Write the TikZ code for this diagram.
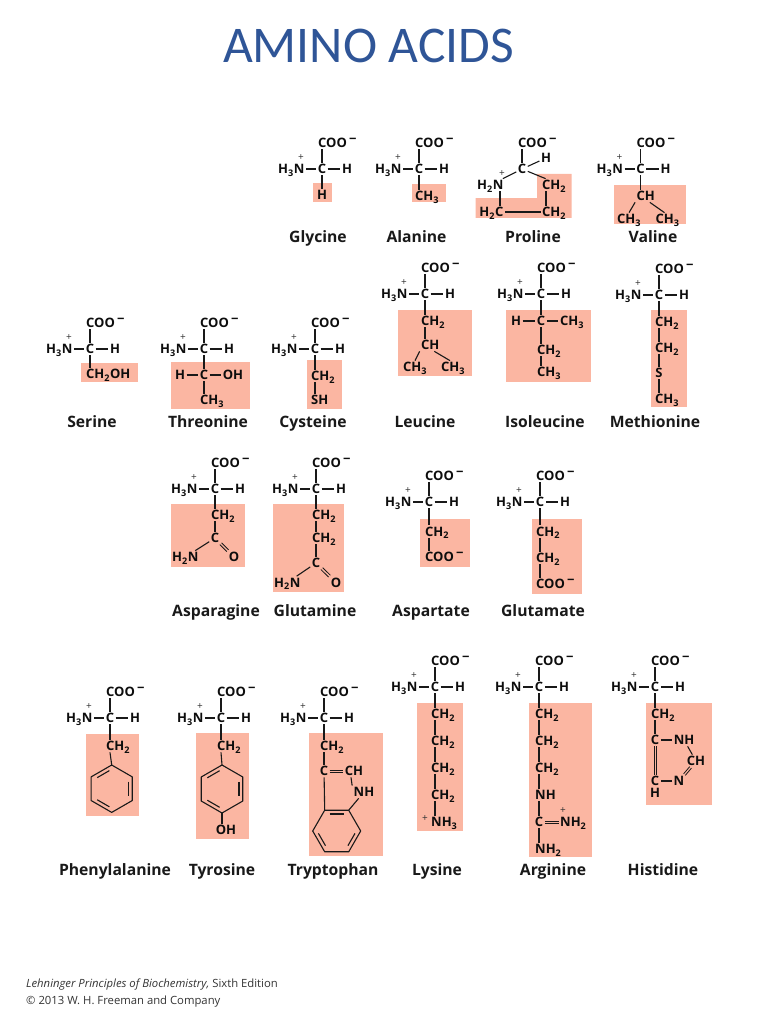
\documentclass[tikz,border=0pt]{standalone}
\usepackage{fontspec}
\setmainfont{Open Sans}
\newfontfamily\titlefont{Carlito}
\usetikzlibrary{calc}
\definecolor{sidefill}{HTML}{FBB6A2}
\definecolor{titleblue}{HTML}{2F5597}
\tikzset{
	atom/.style={font=\bfseries\fontsize{13}{13}\selectfont,inner sep=1.4pt,text height=9.5pt,text depth=0pt,text=black!95},
	group/.style={atom,anchor=west,xshift=-5.4pt},
	plus/.style={font=\fontsize{10}{10}\selectfont,inner sep=0pt,text=black!80},
	bond/.style={line width=1.1pt,black!90},
	side/.style={fill=sidefill,draw=none},
	acid/.style={font=\bfseries\fontsize{15.7}{15.7}\selectfont,inner sep=0pt,anchor=base,text=black!90}
}
\newcommand{\coo}{COO\,\raisebox{.3em}{−}}
% the part that all but proline share
\newcommand{\backbone}{
	\node[atom] (c) at (0,0) {C};
	\node[group] (coo) at (0,-26) {\coo};
	\node[atom,anchor=east] (n) at (-16,0) {H\textsubscript{3}N};
	\node[plus] (p) at (-21,-11) {+};
	\node[atom] (h) at (25,0) {H};
	\draw[bond] (c) -- (c |- coo.south);
	\draw[bond] (n) -- (c);
	\draw[bond] (c) -- (h);
}
% two strokes side by side: from, to, half gap in x, half gap in y
\newcommand{\dblbond}[4]{
	\draw[bond,line width=.8pt,transform canvas={xshift={(#3)*1pt},yshift={(#4)*1pt}}] (#1) -- (#2);
	\draw[bond,line width=.8pt,transform canvas={xshift={-(#3)*1pt},yshift={-(#4)*1pt}}] (#1) -- (#2);
}
% ring: centre, radius, first angle
\newcommand{\hexring}[3]{
	\coordinate (o) at (#1);
	\foreach \k in {1,...,6}
		\coordinate (r\k) at ($(o)+(#3+60*\k-60:#2)$);
	\draw[bond,line join=round] (r1) -- (r2) -- (r3) -- (r4) -- (r5) -- (r6) -- cycle;
}
\newcommand{\innerbond}[2]{
	\draw[bond] ($(o)!.82!($(#1)!.14!(#2)$)$) -- ($(o)!.82!($(#2)!.14!(#1)$)$);
}
\begin{document}
\begin{tikzpicture}[x=1pt,y=-1pt]
	\useasboundingbox (0,0) rectangle (768,1024);
	\node[font=\titlefont\fontsize{51.5}{51.5}\selectfont,text=titleblue,inner sep=0pt] (title) at (368.5,46) {AMINO ACIDS};

	% side chain boxes
	\fill[side] (312.6,183.4) rectangle (332.3,202);
	\fill[side] (411.6,183.7) rectangle (446.4,202.4);
	\fill[side] (475.6,198.1) -- (537.2,198.1) -- (537.2,173.9) -- (571.6,173.9) -- (571.6,217.8) -- (475.6,217.8) -- cycle;
	\fill[side] (614,184.7) rectangle (686.4,224.3);
	\fill[side] (81.3,363.3) rectangle (138,382.3);
	\fill[side] (170.7,362) rectangle (250,408.7);
	\fill[side] (306.7,360) rectangle (341.7,408.7);
	\fill[side] (397.7,309.7) rectangle (472,376.3);
	\fill[side] (506,310) rectangle (591.3,381.7);
	\fill[side] (651,310.3) rectangle (687,407.3);
	\fill[side] (170.8,504.4) rectangle (244.6,566.7);
	\fill[side] (272.5,504.4) rectangle (344.3,592);
	\fill[side] (419.7,519.2) rectangle (469.8,567.4);
	\fill[side] (531.8,519.2) rectangle (582,593.6);
	\fill[side] (86,734) rectangle (138.7,816);
	\fill[side] (196,733) rectangle (249,839);
	\fill[side] (309,733) rectangle (383,856);
	\fill[side] (417.3,702.7) rectangle (463,831);
	\fill[side] (529.3,703.3) rectangle (592,857);
	\fill[side] (645.7,702.7) rectangle (712.3,804.7);

	% glycine
	\begin{scope}[shift={(322,169)},name prefix=gly-]
		\backbone
		\node[atom] (r) at (0,26) {H};
		\draw[bond] (c) -- (r);
	\end{scope}
	% alanine
	\begin{scope}[shift={(419,169)},name prefix=ala-]
		\backbone
		\node[group] (r) at (0,27) {CH\textsubscript{3}};
		\draw[bond] (c) -- (c |- r.north);
	\end{scope}
	% proline
	\begin{scope}[shift={(522,169)},name prefix=pro-]
		\node[atom] (c) at (0,0) {C};
		\node[group] (coo) at (0,-26) {\coo};
		\node[atom] (h) at (24,-11) {H};
		\node[atom,anchor=east] (n) at (-17,16) {H\textsubscript{2}N};
		\node[plus] (p) at (-20,5) {+};
		\node[group] (ca) at (24,16) {CH\textsubscript{2}};
		\node[group] (cb) at (24,43) {CH\textsubscript{2}};
		\node[atom,anchor=east] (cc) at (-17,43) {H\textsubscript{2}C};
		\coordinate (ce) at (-22,43);
		\coordinate (cf) at (24,43);
		\draw[bond] (c) -- (c |- coo.south);
		\draw[bond] (c) -- (h);
		\draw[bond] (c) -- (n);
		\draw[bond] (c) -- ([xshift=5pt]ca.north west);
		\draw[bond] (cf |- ca.south) -- (cf |- cb.north);
		\draw[bond] (ce |- n.south) -- (ce |- cc.north);
		\draw[bond] (cc) -- (cb);
	\end{scope}
	% valine
	\begin{scope}[shift={(640.5,169)},name prefix=val-]
		\backbone
		\node[group] (r) at (0,27) {CH};
		\node[atom] (ma) at (-11.5,50) {CH\textsubscript{3}};
		\node[atom] (mb) at (27,50) {CH\textsubscript{3}};
		\draw[bond] (c) -- (c |- r.north);
		\draw[bond] (r.south west) -- (ma.north);
		\draw[bond] ([xshift=4pt]r.south) -- ([xshift=-3pt]mb.north);
	\end{scope}
	% serine
	\begin{scope}[shift={(90,349)},name prefix=ser-]
		\backbone
		\node[group] (r) at (0,25) {CH\textsubscript{2}OH};
		\draw[bond] (c) -- (c |- r.north);
	\end{scope}
	% threonine
	\begin{scope}[shift={(204,349)},name prefix=thr-]
		\backbone
		\node[atom] (r) at (0,26) {C};
		\node[atom] (ra) at (-24,26) {H};
		\node[atom] (rb) at (29,26) {OH};
		\node[group] (rc) at (0,51) {CH\textsubscript{3}};
		\draw[bond] (c) -- (r);
		\draw[bond] (ra) -- (r);
		\draw[bond] (r) -- (rb);
		\draw[bond] (r) -- (r |- rc.north);
	\end{scope}
	% cysteine
	\begin{scope}[shift={(315,349)},name prefix=cys-]
		\backbone
		\node[group] (r) at (0,27) {CH\textsubscript{2}};
		\node[group] (ra) at (0,51) {SH};
		\draw[bond] (c) -- (c |- r.north);
		\draw[bond] (c |- r.south) -- (c |- ra.north);
	\end{scope}
	% leucine
	\begin{scope}[shift={(425,294)},name prefix=leu-]
		\backbone
		\node[group] (r) at (0,27) {CH\textsubscript{2}};
		\node[group] (ra) at (0,51) {CH};
		\node[atom] (ma) at (-10,73) {CH\textsubscript{3}};
		\node[atom] (mb) at (28,73) {CH\textsubscript{3}};
		\draw[bond] (c) -- (c |- r.north);
		\draw[bond] (c |- r.south) -- (c |- ra.north);
		\draw[bond] (ra.south west) -- (ma.north);
		\draw[bond] ([xshift=4pt]ra.south) -- ([xshift=-3pt]mb.north);
	\end{scope}
	% isoleucine
	\begin{scope}[shift={(541,294)},name prefix=ile-]
		\backbone
		\node[atom] (r) at (0,27) {C};
		\node[atom] (ra) at (-25,27) {H};
		\node[atom] (rb) at (31,27) {CH\textsubscript{3}};
		\node[group] (rc) at (0,56) {CH\textsubscript{2}};
		\node[group] (rd) at (0,78) {CH\textsubscript{3}};
		\draw[bond] (c) -- (r);
		\draw[bond] (ra) -- (r);
		\draw[bond] (r) -- (rb);
		\draw[bond] (r) -- (r |- rc.north);
		\draw[bond] (r |- rc.south) -- (r |- rd.north);
	\end{scope}
	% methionine
	\begin{scope}[shift={(659,295)},name prefix=met-]
		\backbone
		\node[group] (r) at (0,27) {CH\textsubscript{2}};
		\node[group] (ra) at (0,53) {CH\textsubscript{2}};
		\node[atom] (rb) at (0,78) {S};
		\node[group] (rc) at (0,104) {CH\textsubscript{3}};
		\draw[bond] (c) -- (c |- r.north);
		\draw[bond] (c |- r.south) -- (c |- ra.north);
		\draw[bond] (c |- ra.south) -- (rb);
		\draw[bond] (rb) -- (c |- rc.north);
	\end{scope}
	% asparagine
	\begin{scope}[shift={(215,489)},name prefix=asn-]
		\backbone
		\node[group] (r) at (0,26) {CH\textsubscript{2}};
		\node[atom] (ra) at (0,49) {C};
		\node[atom,anchor=east] (rb) at (-15,68) {H\textsubscript{2}N};
		\node[atom] (rc) at (19,68) {O};
		\draw[bond] (c) -- (c |- r.north);
		\draw[bond] (c |- r.south) -- (ra);
		\draw[bond] (ra) -- (rb);
		\dblbond{ra}{rc}{.9}{.9}
	\end{scope}
	% glutamine
	\begin{scope}[shift={(316,489)},name prefix=gln-]
		\backbone
		\node[group] (r) at (0,26) {CH\textsubscript{2}};
		\node[group] (ra) at (0,49) {CH\textsubscript{2}};
		\node[atom] (rb) at (0,74) {C};
		\node[atom,anchor=east] (rc) at (-14,93.5) {H\textsubscript{2}N};
		\node[atom] (rd) at (20,93.5) {O};
		\draw[bond] (c) -- (c |- r.north);
		\draw[bond] (c |- r.south) -- (c |- ra.north);
		\draw[bond] (c |- ra.south) -- (rb);
		\draw[bond] (rb) -- (rc);
		\dblbond{rb}{rd}{.9}{.9}
	\end{scope}
	% aspartate
	\begin{scope}[shift={(429,502)},name prefix=asp-]
		\backbone
		\node[group] (r) at (0,29.5) {CH\textsubscript{2}};
		\node[group] (ra) at (0,55) {\coo};
		\draw[bond] (c) -- (c |- r.north);
		\draw[bond] (c |- r.south) -- (c |- ra.north);
	\end{scope}
	% glutamate
	\begin{scope}[shift={(540,502)},name prefix=glu-]
		\backbone
		\node[group] (r) at (0,29.5) {CH\textsubscript{2}};
		\node[group] (ra) at (0,56) {CH\textsubscript{2}};
		\node[group] (rb) at (0,82) {\coo};
		\draw[bond] (c) -- (c |- r.north);
		\draw[bond] (c |- r.south) -- (c |- ra.north);
		\draw[bond] (c |- ra.south) -- (c |- rb.north);
	\end{scope}
	% phenylalanine
	\begin{scope}[shift={(110,718)},name prefix=phe-]
		\backbone
		\node[group] (r) at (0,28) {CH\textsubscript{2}};
		\draw[bond] (c) -- (c |- r.north);
		\hexring{1.7,70.7}{23.7}{-90}
		\draw[bond] (c |- r.south) -- (r1);
		\innerbond{r6}{r1}
		\innerbond{r2}{r3}
		\innerbond{r4}{r5}
	\end{scope}
	% tyrosine
	\begin{scope}[shift={(221,718)},name prefix=tyr-]
		\backbone
		\node[group] (r) at (0,28) {CH\textsubscript{2}};
		\node[atom] (ra) at (5,112) {OH};
		\draw[bond] (c) -- (c |- r.north);
		\hexring{1,71}{24}{-90}
		\draw[bond] (c |- r.south) -- (r1);
		\draw[bond] (r4) -- (r4 |- ra.north);
		\innerbond{r6}{r1}
		\innerbond{r2}{r3}
		\innerbond{r4}{r5}
	\end{scope}
	% tryptophan
	\begin{scope}[shift={(324,718)},name prefix=trp-]
		\backbone
		\node[group] (r) at (0,28) {CH\textsubscript{2}};
		\node[atom] (ra) at (0,53) {C};
		\node[atom] (rb) at (30,53) {CH};
		\node[atom] (rc) at (40,74) {NH};
		\draw[bond] (c) -- (c |- r.north);
		\draw[bond] (c |- r.south) -- (ra);
		\dblbond{ra}{rb}{0}{1.1}
		\hexring{12.7,113}{24}{-120}
		\draw[bond] (ra) -- (r1);
		\draw[bond] ([xshift=-3pt]rb.south) -- (rc.north west);
		\draw[bond] (rc) -- (r2);
		\innerbond{r1}{r2}
		\innerbond{r3}{r4}
		\innerbond{r5}{r6}
	\end{scope}
	% lysine
	\begin{scope}[shift={(435,687)},name prefix=lys-]
		\backbone
		\node[group] (r) at (0,27) {CH\textsubscript{2}};
		\node[group] (ra) at (0,54) {CH\textsubscript{2}};
		\node[group] (rb) at (0,81) {CH\textsubscript{2}};
		\node[group] (rd) at (0,108) {CH\textsubscript{2}};
		\node[group] (re) at (0,135) {NH\textsubscript{3}};
		\node[plus] (p2) at (-10,132) {+};
		\draw[bond] (c) -- (c |- r.north);
		\draw[bond] (c |- r.south) -- (c |- ra.north);
		\draw[bond] (c |- ra.south) -- (c |- rb.north);
		\draw[bond] (c |- rb.south) -- (c |- rd.north);
		\draw[bond] (c |- rd.south) -- (c |- re.north);
	\end{scope}
	% arginine
	\begin{scope}[shift={(539,687)},name prefix=arg-]
		\backbone
		\node[group] (r) at (0,27) {CH\textsubscript{2}};
		\node[group] (ra) at (0,54) {CH\textsubscript{2}};
		\node[group] (rb) at (0,81) {CH\textsubscript{2}};
		\node[group] (rd) at (0,108) {NH};
		\node[atom] (re) at (0,135) {C};
		\node[group] (rf) at (25,135) {NH\textsubscript{2}};
		\node[plus] (p2) at (24,124) {+};
		\node[group] (rg) at (0,162) {NH\textsubscript{2}};
		\draw[bond] (c) -- (c |- r.north);
		\draw[bond] (c |- r.south) -- (c |- ra.north);
		\draw[bond] (c |- ra.south) -- (c |- rb.north);
		\draw[bond] (c |- rb.south) -- (c |- rd.north);
		\draw[bond] (c |- rd.south) -- (re);
		\dblbond{re}{rf}{0}{1.1}
		\draw[bond] (re) -- (c |- rg.north);
	\end{scope}
	% histidine
	\begin{scope}[shift={(655,687)},name prefix=his-]
		\backbone
		\node[group] (r) at (0,27) {CH\textsubscript{2}};
		\node[atom] (ra) at (0,53) {C};
		\node[atom] (rb) at (29,53) {NH};
		\node[atom] (rd) at (41,74) {CH};
		\node[atom] (re) at (24,94) {N};
		\node[atom] (rf) at (0,94) {C};
		\node[atom] (rg) at (0,106) {H};
		\draw[bond] (c) -- (c |- r.north);
		\draw[bond] (c |- r.south) -- (ra);
		\draw[bond] (ra) -- (rb);
		\draw[bond] (rb) -- (rd);
		\dblbond{rd}{re}{.85}{-.75}
		\draw[bond] (re) -- (rf);
		\dblbond{ra}{rf}{1.1}{0}
	\end{scope}

	% names
	\node[acid] (glyname) at (318,243) {Glycine};
	\node[acid] (alaname) at (416.5,243) {Alanine};
	\node[acid] (proname) at (533,243) {Proline};
	\node[acid] (valname) at (653,243) {Valine};
	\node[acid] (sername) at (92,427.5) {Serine};
	\node[acid] (thrname) at (208,427.5) {Threonine};
	\node[acid] (cysname) at (313,427.5) {Cysteine};
	\node[acid] (leuname) at (425,427.5) {Leucine};
	\node[acid] (ilename) at (545,427.5) {Isoleucine};
	\node[acid] (metname) at (655,427.5) {Methionine};
	\node[acid] (asnname) at (216,616) {Asparagine};
	\node[acid] (glnname) at (315,616) {Glutamine};
	\node[acid] (aspname) at (431,616) {Aspartate};
	\node[acid] (gluname) at (543,616) {Glutamate};
	\node[acid] (phename) at (115,875.5) {Phenylalanine};
	\node[acid] (tyrname) at (222,875.5) {Tyrosine};
	\node[acid] (trpname) at (333,875.5) {Tryptophan};
	\node[acid] (lysname) at (437,875.5) {Lysine};
	\node[acid] (argname) at (553,875.5) {Arginine};
	\node[acid] (hisname) at (663,875.5) {Histidine};

	\node[anchor=west,inner sep=0pt,font=\fontsize{11.3}{11.3}\selectfont,text=black!80] (booktitle) at (26,985) {\textit{Lehninger Principles of Biochemistry,} Sixth Edition};
	\node[anchor=west,inner sep=0pt,font=\fontsize{11.3}{11.3}\selectfont,text=black!80] (bookcopy) at (26,1002) {© 2013 W. H. Freeman and Company};
\end{tikzpicture}
\end{document}
